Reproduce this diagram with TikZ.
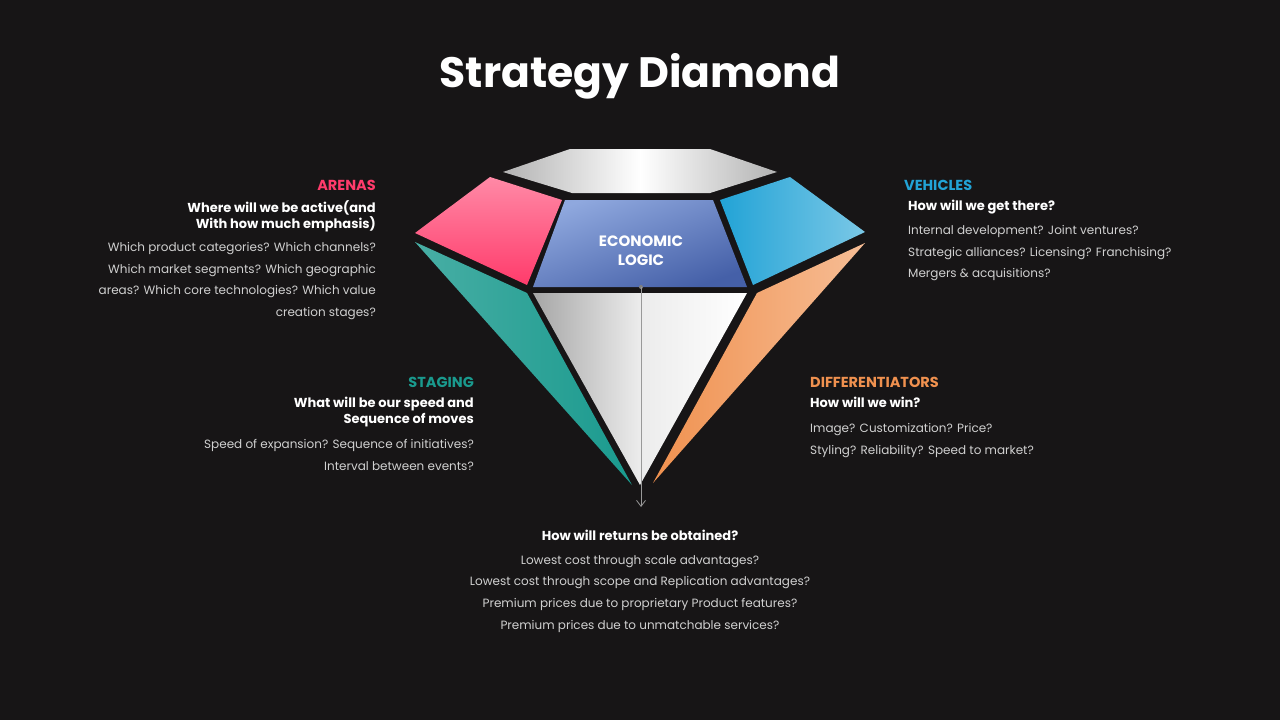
\documentclass[tikz,border=0pt]{standalone}
\usepackage{fontspec}
\setmainfont{Poppins}
\usetikzlibrary{arrows.meta}
\definecolor{bg}{HTML}{171516}
\definecolor{pinkc}{HTML}{FF3B6B}
\definecolor{bluec}{HTML}{22A3D6}
\definecolor{tealc}{HTML}{1A9A8E}
\definecolor{orangec}{HTML}{F0914F}
\definecolor{steel1}{HTML}{8FA8DE}
\definecolor{steel2}{HTML}{4560A8}
\definecolor{txt}{HTML}{D0D0D0}
\begin{document}
\begin{tikzpicture}[x=1pt,y=-1pt,
  head/.style={font=\bfseries\fontsize{14.5}{17}\selectfont,inner sep=0pt},
  sub/.style={text=white,font=\fontsize{13}{16}\selectfont\bfseries,inner sep=0pt},
  body/.style={text=txt,font=\fontsize{12}{21.7}\selectfont,inner sep=0pt}]
\fill[bg] (0,0) rectangle (1280,720);
\useasboundingbox (0,0) rectangle (1280,720);
\node[text=white,font=\bfseries\fontsize{42.5}{48}\selectfont] (title) at (640,76) {Strategy Diamond};
% facets
\shade[left color=gray!60,right color=gray!60,middle color=white] (503,172) -- (570,149) -- (710,149) -- (777,172) -- (710,193) -- (572,193) -- cycle;
\shade[left color=pinkc!60!white,right color=pinkc,shading angle=0] (415,233) -- (490,177) -- (562,200) -- (527,285) -- cycle;
\shade[top color=steel1,bottom color=steel2,shading angle=20] (565,200) -- (713,200) -- (747,287) -- (533,287) -- cycle;
\shade[left color=bluec,right color=bluec!60!white] (720,200) -- (790,177) -- (865,232) -- (753,285) -- cycle;
\shade[left color=tealc!80!white,right color=tealc] (415,242) -- (527,293) -- (632,485) -- cycle;
\shade[left color=orangec,right color=orangec!60!white] (865,243) -- (757,293) -- (653,483) -- cycle;
\shade[left color=gray!70,right color=white,middle color=gray!15] (533,293) -- (747,293) -- (640,485) -- cycle;
\node[text=white,font=\bfseries\fontsize{15}{19}\selectfont,align=center] (econ) at (641,251) {ECONOMIC\\LOGIC};
\coordinate (as) at (641,287);
\coordinate (ae) at (641,507);
\fill[gray] (as) circle (2);
\draw[gray!80,line width=0.8pt,-{Straight Barb[length=6pt,width=9pt]}] (as) -- (ae);
% ARENAS
\node[head,text=pinkc,anchor=east] (arh) at (376,185) {ARENAS};
\node[sub,anchor=north east,align=right] (ars) at (376,200) {Where will we be active(and\\With how much emphasis)};
\node[body,anchor=north east,align=right] (arb) at (376,242) {Which product categories? Which channels?\\Which market segments? Which geographic\\areas? Which core technologies? Which value\\creation stages?};
% VEHICLES
\node[head,text=bluec,anchor=west] (veh) at (904,185) {VEHICLES};
\node[sub,anchor=north west,align=left] (ves) at (908,200) {How will we get there?};
\node[body,anchor=north west,align=left] (veb) at (908,225) {Internal development? Joint ventures?\\Strategic alliances? Licensing? Franchising?\\Mergers \& acquisitions?};
% STAGING
\node[head,text=tealc,anchor=east] (sth) at (474,382) {STAGING};
\node[sub,anchor=north east,align=right] (sts) at (474,397) {What will be our speed and\\Sequence of moves};
\node[body,anchor=north east,align=right] (stb) at (474,439) {Speed of expansion? Sequence of initiatives?\\Interval between events?};
% DIFFERENTIATORS
\node[head,text=orangec,anchor=west] (dih) at (810,382) {DIFFERENTIATORS};
\node[sub,anchor=north west,align=left] (dis) at (810,397) {How will we win?};
\node[body,anchor=north west,align=left] (dib) at (810,423) {Image? Customization? Price?\\Styling? Reliability? Speed to market?};
% bottom
\node[sub] (bos) at (640,535) {How will returns be obtained?};
\node[body,anchor=north,align=center] (bob) at (640,555) {Lowest cost through scale advantages?\\Lowest cost through scope and Replication advantages?\\Premium prices due to proprietary Product features?\\Premium prices due to unmatchable services?};
\end{tikzpicture}
\end{document}
